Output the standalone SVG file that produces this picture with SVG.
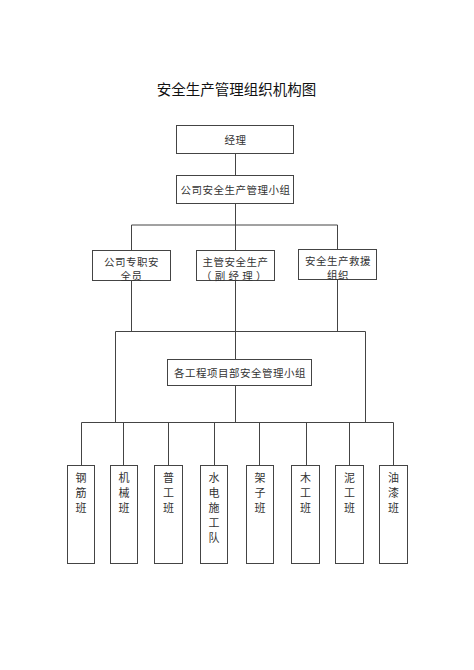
<svg xmlns="http://www.w3.org/2000/svg" width="474" height="670" viewBox="0 0 474 670">
<style>
.box{fill:#fff;stroke:#444;stroke-width:1}
.ln{fill:none;stroke:#444;stroke-width:1}
.t{font-family:"Noto Sans CJK SC",sans-serif;font-size:10.5px;fill:#333;text-anchor:middle;dominant-baseline:central;letter-spacing:0.5px}
.v{font-family:"Noto Sans CJK SC",sans-serif;font-size:11px;fill:#333;text-anchor:middle;dominant-baseline:central}
.title{font-family:"Noto Sans CJK SC",sans-serif;font-size:14.5px;fill:#111;text-anchor:middle;dominant-baseline:central}
</style>
<rect width="474" height="670" fill="#fff"/>
<text class="title" x="236.5" y="88">安全生产管理组织机构图</text>
<g id="connectors">
<path class="ln" d="M235.5 153V175"/>
<path class="ln" d="M235.5 203V225M131.5 225H337.5M131.5 225V250M235.5 225V250M337.5 225V249"/>
<path class="ln" d="M131.5 281V331.5M235.5 281V359M337.5 280V331.5M115.5 331.5H365.5M115.5 331.5V422.5M365.5 331.5V422.5"/>
<path class="ln" d="M235.5 385V422.5M81.5 422.5H393.5"/>
<path class="ln" d="M81.5 422.5V465M123.5 422.5V465M168.5 422.5V465M214.5 422.5V465M259.5 422.5V465M306.5 422.5V465M349.5 422.5V465M393.5 422.5V465"/>
</g>
<g id="n1"><rect class="box" x="176.5" y="125.5" width="117" height="28"/><text class="t" x="235.5" y="139.5">经理</text></g>
<g id="n2"><rect class="box" x="176.5" y="175.5" width="117" height="28"/><text class="t" x="235.5" y="189">公司安全生产管理小组</text></g>
<g id="n3"><rect class="box" x="92.5" y="250.5" width="78" height="30"/><text class="t" x="131.5" y="261">公司专职安</text><text class="t" x="131.5" y="275">全员</text></g>
<g id="n4"><rect class="box" x="196.5" y="250.5" width="78" height="30"/><text class="t" x="235.5" y="261">主管安全生产</text><text class="t" x="234" y="275" textLength="66" lengthAdjust="spacing">（副经理）</text></g>
<g id="n5"><rect class="box" x="298.5" y="249.5" width="78" height="30"/><text class="t" x="338" y="260">安全生产救援</text><text class="t" x="338" y="274">组织</text></g>
<g id="n6"><rect class="box" x="167.5" y="359.5" width="144" height="26"/><text class="t" x="240" y="372">各工程项目部安全管理小组</text></g>
<g id="c1"><rect class="box" x="67.5" y="465.5" width="27" height="98"/><text class="v" x="81" y="477">钢</text><text class="v" x="81" y="492">筋</text><text class="v" x="81" y="507">班</text></g>
<g id="c2"><rect class="box" x="110.5" y="465.5" width="27" height="98"/><text class="v" x="124" y="477">机</text><text class="v" x="124" y="492">械</text><text class="v" x="124" y="507">班</text></g>
<g id="c3"><rect class="box" x="154.5" y="465.5" width="28" height="98"/><text class="v" x="168.5" y="477">普</text><text class="v" x="168.5" y="492">工</text><text class="v" x="168.5" y="507">班</text></g>
<g id="c4"><rect class="box" x="200.5" y="465.5" width="27" height="98"/><text class="v" x="214" y="477">水</text><text class="v" x="214" y="492">电</text><text class="v" x="214" y="507">施</text><text class="v" x="214" y="522">工</text><text class="v" x="214" y="537">队</text></g>
<g id="c5"><rect class="box" x="246.5" y="465.5" width="27" height="98"/><text class="v" x="260" y="477">架</text><text class="v" x="260" y="492">子</text><text class="v" x="260" y="507">班</text></g>
<g id="c6"><rect class="box" x="291.5" y="465.5" width="28" height="98"/><text class="v" x="305.5" y="477">木</text><text class="v" x="305.5" y="492">工</text><text class="v" x="305.5" y="507">班</text></g>
<g id="c7"><rect class="box" x="335.5" y="465.5" width="28" height="98"/><text class="v" x="349.5" y="477">泥</text><text class="v" x="349.5" y="492">工</text><text class="v" x="349.5" y="507">班</text></g>
<g id="c8"><rect class="box" x="379.5" y="465.5" width="28" height="98"/><text class="v" x="393.5" y="477">油</text><text class="v" x="393.5" y="492">漆</text><text class="v" x="393.5" y="507">班</text></g>
</svg>
